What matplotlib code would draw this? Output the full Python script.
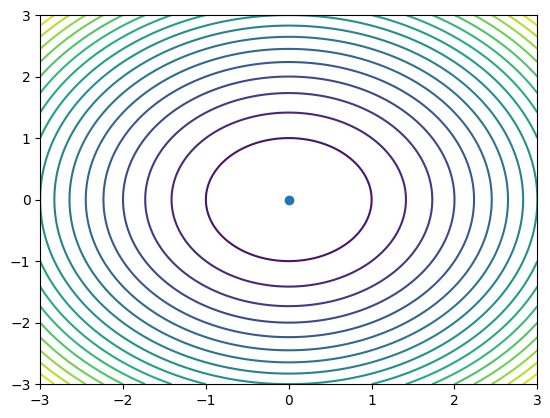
import numpy as np
import matplotlib
matplotlib.use("Agg")
import matplotlib.pyplot as plt

x_range = [-3, 3]
y_range = [-3, 3]
levels = list(range(0, 19))
point_x = [0]
point_y = [0]

x = np.linspace(x_range[0], x_range[1], 400)
y = np.linspace(y_range[0], y_range[1], 400)
X, Y = np.meshgrid(x, y)
Z = X**2 + Y**2

fig, ax = plt.subplots(figsize=(5.5, 4.18), dpi=100)
fig.subplots_adjust(left=0.073, right=0.977, top=0.964, bottom=0.081)
ax.contour(X, Y, Z, levels=levels, cmap="viridis")
ax.scatter(point_x, point_y, color="C0")
fig.savefig("out.png")
